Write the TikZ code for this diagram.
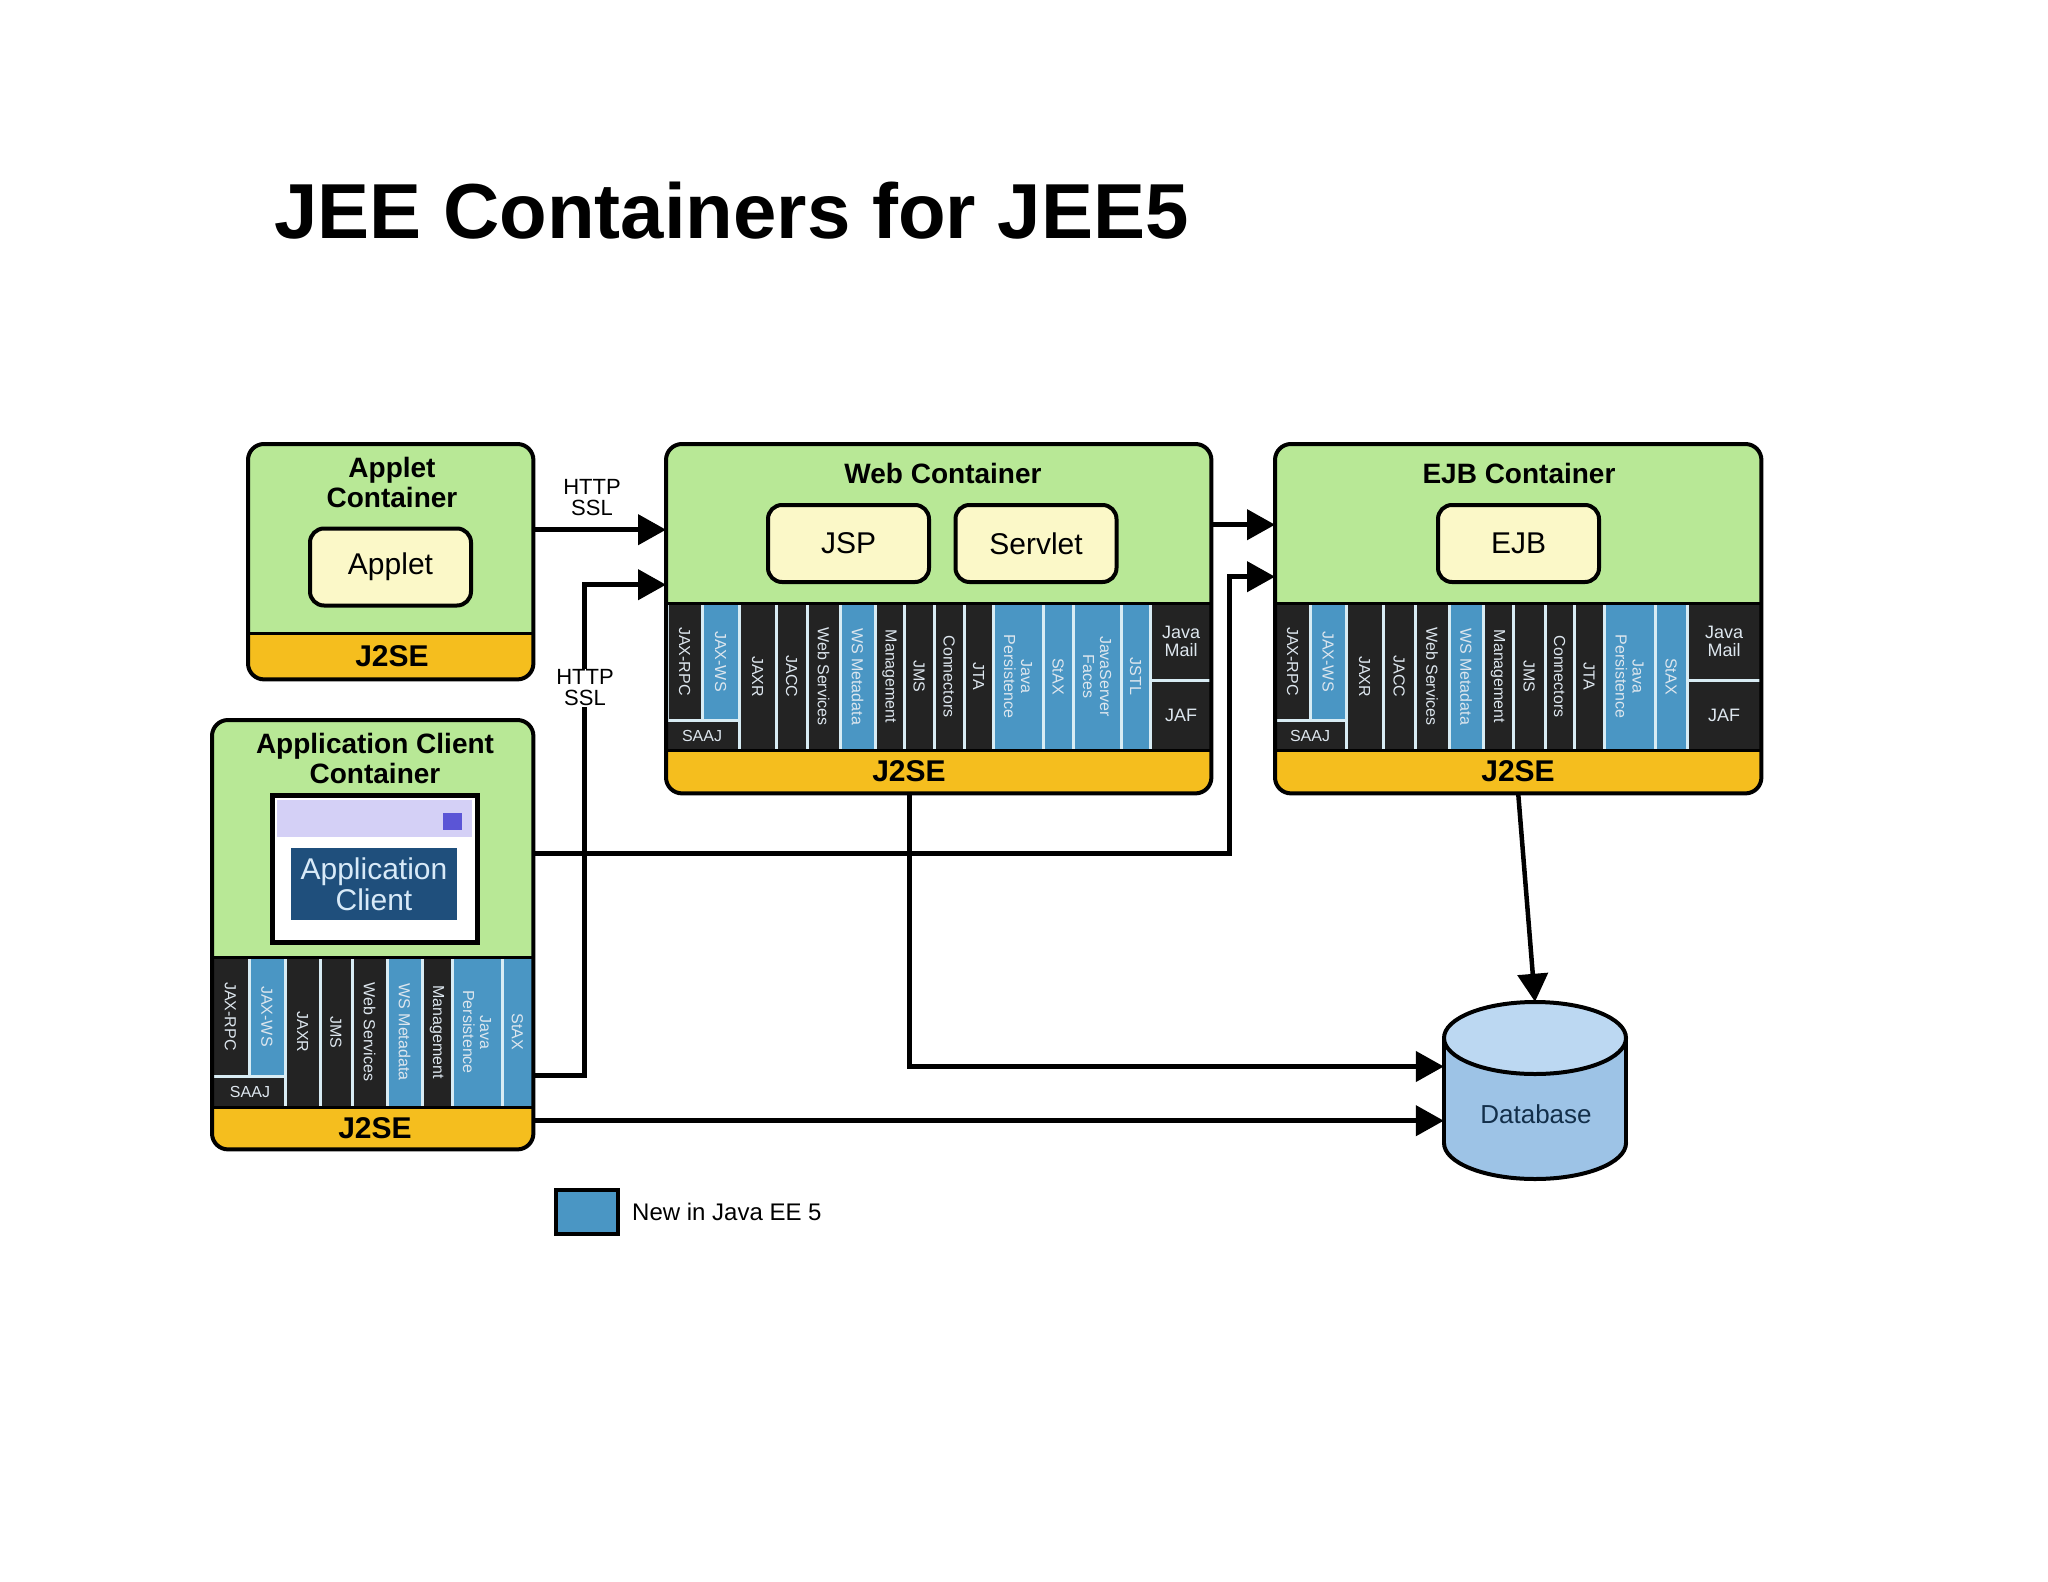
\documentclass[tikz,border=0pt]{standalone}
\usepackage{fontspec}
\setmainfont{Liberation Sans}
\usetikzlibrary{arrows.meta,positioning}

\definecolor{jgreen}{HTML}{B8E896}
\definecolor{jyellow}{HTML}{F5BE1E}
\definecolor{jblack}{HTML}{232323}
\definecolor{jblue}{HTML}{4A96C4}
\definecolor{apitext}{HTML}{DDE6EE}
\definecolor{jcream}{HTML}{FBF8C8}
\definecolor{stackgap}{HTML}{D8ECF4}
\definecolor{dbbody}{HTML}{9DC3E6}
\definecolor{dbtop}{HTML}{BCD8F2}
\definecolor{appblue}{HTML}{1F4F7C}
\definecolor{apptext}{HTML}{D8EAF8}
\definecolor{lav}{HTML}{D4D0F6}
\definecolor{lavsq}{HTML}{5B55D6}

\tikzset{
  cont/.style={fill=jgreen, rounded corners=16pt, anchor=north west, inner sep=0pt},
  rim/.style={draw=black, line width=4pt, rounded corners=16pt},
  comp/.style={draw=black, line width=4pt, rounded corners=14pt, fill=jcream,
    minimum width=161pt, minimum height=77pt, font=\fontsize{30}{32}\selectfont},
  ctitle/.style={font=\bfseries\fontsize{28}{30}\selectfont, align=center},
  band/.style={font=\bfseries\fontsize{30}{30}\selectfont},
  api/.style={rotate=-90, text=apitext, font=\fontsize{16}{17}\selectfont, align=center, inner sep=0pt},
  apih/.style={text=apitext, font=\fontsize{18}{18}\selectfont, align=center, inner sep=0pt},
  arr/.style={line width=4.5pt, -{Triangle[length=28pt,width=30pt]}},
  lbl/.style={font=\fontsize{22}{21}\selectfont, align=center, inner sep=0pt}
}

\begin{document}
\begin{tikzpicture}[x=1pt,y=-1pt]
  \useasboundingbox[fill=white] (0,0) rectangle (2048,1582);

  % title
  \node[anchor=base west, inner sep=0pt, font=\bfseries\fontsize{78}{80}\selectfont] (title) at (274,238) {JEE Containers for JEE5};

  % the containers
  \node[cont, minimum width=285pt, minimum height=235pt] (applet) at (248,444) {};
  \node[cont, minimum width=545pt, minimum height=349pt] (web) at (666,444) {};
  \node[cont, minimum width=486pt, minimum height=349pt] (ejb) at (1275,444) {};
  \node[cont, minimum width=321pt, minimum height=429pt] (appc) at (212,720) {};

  % applet container
  \begin{scope}
    \clip[rounded corners=16pt] (applet.north west) rectangle (applet.south east);
    \fill[jyellow] (248,633) rectangle (533,679);
    \draw[line width=3pt] (248,633) -- (533,633);
  \end{scope}
  \draw[rim] (applet.north west) rectangle (applet.south east);
  \node[ctitle] at (392,482) {Applet\\Container};
  \node[comp] (appletbox) at (390.5,567) {Applet};
  \node[band] at (392,656) {J2SE};

  % web container
  \begin{scope}
    \clip[rounded corners=16pt] (web.north west) rectangle (web.south east);
    \fill[stackgap] (666,603) rectangle (1211,750);
    \fill[jyellow] (666,750) rectangle (1211,793);
    \foreach \a/\b/\u/\v/\c/\t in {
        667/702/603/720/jblack/{JAX-RPC}, 702/739/603/720/jblue/{JAX-WS},
        739/776/603/750/jblack/{JAXR}, 776/807/603/750/jblack/{JACC},
        807/840/603/750/jblack/{Web Services}, 840/875/603/750/jblue/{WS Metadata},
        875/904/603/750/jblack/{Management}, 904/934/603/750/jblack/{JMS},
        934/964/603/750/jblack/{Connectors}, 964/993/603/750/jblack/{JTA},
        993/1043/603/750/jblue/{Java\\Persistence}, 1043/1073/603/750/jblue/{StAX},
        1073/1121/603/750/jblue/{JavaServer\\Faces}, 1121/1150/603/750/jblue/{JSTL}} {
      \fill[\c] (\a+1.5,\u) rectangle (\b-1.5,\v-1.5);
      \node[api] at ({(\a+\b)/2},{(\u+\v)/2}) {\t};
    }
    \fill[jblack] (660,721.5) rectangle (737.5,750);
    \node[apih, font=\fontsize{16}{16}\selectfont] at (702,736) {SAAJ};
    \fill[jblack] (1151.5,603) rectangle (1215,678.5);
    \fill[jblack] (1151.5,681.5) rectangle (1215,750);
    \node[apih] at (1181,641) {Java\\Mail};
    \node[apih] at (1181,715) {JAF};
    \draw[line width=3pt] (666,603) -- (1211,603) (666,750) -- (1211,750);
  \end{scope}
  \draw[rim] (web.north west) rectangle (web.south east);
  \node[ctitle] at (943,473) {Web Container};
  \node[comp] (jsp) at (848.5,543.5) {JSP};
  \node[comp] (servlet) at (1036,543.5) {Servlet};
  \node[band] at (909,771) {J2SE};

  % ejb container
  \begin{scope}
    \clip[rounded corners=16pt] (ejb.north west) rectangle (ejb.south east);
    \fill[stackgap] (1275,603) rectangle (1761,750);
    \fill[jyellow] (1275,750) rectangle (1761,793);
    \foreach \a/\b/\u/\v/\c/\t in {
        1275/1310/603/720/jblack/{JAX-RPC}, 1310/1346/603/720/jblue/{JAX-WS},
        1346/1383/603/750/jblack/{JAXR}, 1383/1415/603/750/jblack/{JACC},
        1415/1449/603/750/jblack/{Web Services}, 1449/1483/603/750/jblue/{WS Metadata},
        1483/1513/603/750/jblack/{Management}, 1513/1545/603/750/jblack/{JMS},
        1545/1574/603/750/jblack/{Connectors}, 1574/1604/603/750/jblack/{JTA},
        1604/1655/603/750/jblue/{Java\\Persistence}, 1655/1687/603/750/jblue/{StAX}} {
      \fill[\c] (\a+1.5,\u) rectangle (\b-1.5,\v-1.5);
      \node[api] at ({(\a+\b)/2},{(\u+\v)/2}) {\t};
    }
    \fill[jblack] (1268,721.5) rectangle (1344.5,750);
    \node[apih, font=\fontsize{16}{16}\selectfont] at (1310,736) {SAAJ};
    \fill[jblack] (1688.5,603) rectangle (1765,678.5);
    \fill[jblack] (1688.5,681.5) rectangle (1765,750);
    \node[apih] at (1724,641) {Java\\Mail};
    \node[apih] at (1724,715) {JAF};
    \draw[line width=3pt] (1275,603) -- (1761,603) (1275,750) -- (1761,750);
  \end{scope}
  \draw[rim] (ejb.north west) rectangle (ejb.south east);
  \node[ctitle] at (1519,473) {EJB Container};
  \node[comp] (ejbbox) at (1518.5,543.5) {EJB};
  \node[band] at (1518,771) {J2SE};

  % application client container
  \begin{scope}
    \clip[rounded corners=16pt] (appc.north west) rectangle (appc.south east);
    \fill[stackgap] (212,957) rectangle (533,1107);
    \fill[jyellow] (212,1107) rectangle (533,1149);
    \foreach \a/\b/\u/\v/\c/\t in {
        212/249/957/1076/jblack/{JAX-RPC}, 249/285/957/1076/jblue/{JAX-WS},
        285/320/957/1107/jblack/{JAXR}, 320/352/957/1107/jblack/{JMS},
        352/387/957/1107/jblack/{Web Services}, 387/422/957/1107/jblue/{WS Metadata},
        422/452/957/1107/jblack/{Management}, 452/502/957/1107/jblue/{Java\\Persistence},
        502/533/957/1107/jblue/{StAX}} {
      \fill[\c] (\a+1.5,\u) rectangle (\b-1.5,\v-1.5);
      \node[api] at ({(\a+\b)/2},{(\u+\v)/2}) {\t};
    }
    \fill[jblack] (205,1077.5) rectangle (283.5,1107);
    \node[apih, font=\fontsize{16}{16}\selectfont] at (250,1092) {SAAJ};
    \draw[line width=3pt] (212,957) -- (533,957) (212,1107) -- (533,1107);
  \end{scope}
  \draw[rim] (appc.north west) rectangle (appc.south east);
  \node[ctitle] at (375,758) {Application Client\\Container};
  \node[draw=black, line width=5pt, fill=white, minimum width=205pt, minimum height=147pt, inner sep=0pt] (win) at (374.5,868.5) {};
  \fill[lav] (277,800) rectangle (472,837);
  \fill[lavsq] (443,813) rectangle (462,830);
  \node[fill=appblue, text=apptext, minimum width=166pt, minimum height=72pt, inner sep=0pt,
    align=center, font=\fontsize{30}{31}\selectfont] (appclient) at (374,884) {Application\\Client};
  \node[band] at (375,1128) {J2SE};

  % database
  \node[minimum width=182pt, minimum height=177pt, inner sep=0pt] (db) at (1535,1090.5) {};
  \draw[fill=dbbody, line width=4pt] (1535,1143) ellipse [x radius=91, y radius=36];
  \fill[dbbody] (1444,1038) rectangle (1626,1143);
  \draw[line width=4pt] (1444,1038) -- (1444,1143) (1626,1038) -- (1626,1143);
  \draw[fill=dbtop, line width=4pt] (1535,1038) ellipse [x radius=91, y radius=36];
  \node[font=\fontsize{26}{26}\selectfont, text=appblue!60!black] (dblbl) at (1536,1114) {Database};

  % connectors
  \coordinate (a1) at ([yshift=32pt]applet.east);
  \draw[arr] (a1) -- (a1 -| web.west);
  \node[lbl] at (592,498) {HTTP\\SSL};
  \coordinate (c2) at ([yshift=-141pt]appc.east);
  \coordinate (w2) at ([yshift=34pt]web.west);
  \draw[arr] (c2) -- ++(51,0) |- (w2);
  \node[lbl, fill=white, inner sep=1pt] at (585,688) {HTTP\\SSL};
  \coordinate (w3) at ([yshift=94pt]web.east);
  \draw[arr] (w3) -- (w3 -| ejb.west);
  \coordinate (c3) at ([yshift=81pt]appc.east);
  \coordinate (e2) at ([yshift=42pt]ejb.west);
  \draw[arr] (c3) -- ++(696,0) |- (e2);
  \coordinate (w4) at ([xshift=-29pt]web.south);
  \coordinate (d1) at ([yshift=24pt]db.west);
  \draw[arr] (w4) |- (d1);
  \coordinate (c4) at ([yshift=-186pt]appc.east);
  \draw[arr] (c4) -- (c4 -| db.west);
  \draw[arr] (ejb.south) -- (db.north);

  % legend
  \node[draw=black, line width=4pt, fill=jblue, minimum width=62pt, minimum height=44pt, inner sep=0pt] (key) at (587,1212) {};
  \node[right=12pt of key, inner sep=0pt, font=\fontsize{24}{24}\selectfont] (keytext) {New in Java EE 5};
\end{tikzpicture}
\end{document}
